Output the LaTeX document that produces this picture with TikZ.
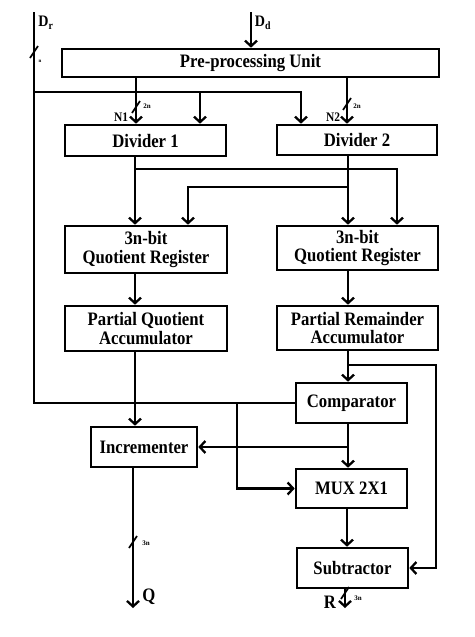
\documentclass[tikz,border=0pt]{standalone}
\usepackage{fontspec}
\setmainfont{Liberation Serif}
\newfontfamily\diagfont[FakeStretch=0.88]{Liberation Serif}
\usetikzlibrary{arrows.meta}

\begin{document}
\begin{tikzpicture}[x=1pt,y=-1pt,
  blk/.style={draw,line width=2.6pt,inner sep=1pt,align=center,
    font=\diagfont\fontsize{19}{18.5}\selectfont\bfseries},
  wire/.style={line width=2.3pt},
  >={Straight Barb[length=5.5pt,width=12pt]},
  lbl/.style={font=\diagfont\fontsize{13}{13}\selectfont\bfseries,inner sep=0pt},
  big/.style={font=\diagfont\fontsize{19}{19}\selectfont\bfseries,inner sep=0pt},
  small/.style={font=\fontsize{7}{7}\selectfont\bfseries,inner sep=0pt}]
  \useasboundingbox (0,0) rectangle (474,637);
  % blocks
  \node[blk,minimum width=377pt,minimum height=28pt] (pre) at (250.5,63) {Pre-processing Unit};
  \node[blk,minimum width=161pt,minimum height=31pt] (div1) at (145.5,140.5) {Divider 1};
  \node[blk,minimum width=160pt,minimum height=30pt] (div2) at (357,140) {Divider 2};
  \node[blk,minimum width=162pt,minimum height=47pt] (qr1) at (146,249.5) {3n-bit\\Quotient Register};
  \node[blk,minimum width=161pt,minimum height=44pt] (qr2) at (357.5,248) {3n-bit\\Quotient Register};
  \node[blk,minimum width=162pt,minimum height=45pt] (pqa) at (146,328.5) {Partial Quotient\\Accumulator};
  \node[blk,minimum width=161pt,minimum height=44pt] (pra) at (357.5,328) {Partial Remainder\\Accumulator};
  \node[blk,minimum width=111pt,minimum height=40pt] (cmp) at (351.5,403) {Comparator};
  \node[blk,minimum width=106pt,minimum height=40pt] (inc) at (144,447) {Incrementer};
  \node[blk,minimum width=111pt,minimum height=39pt] (mux) at (351.5,488.5) {MUX 2X1};
  \node[blk,minimum width=111pt,minimum height=40pt] (sub) at (352.5,568) {Subtractor};
  % wire columns and taps
  \coordinate (drtop) at (34,12);
  \coordinate (ddtop) at (251,12);
  \coordinate (tapA) at (200,92);
  \coordinate (tapB) at (301,92);
  \coordinate (n1) at (136,0);
  \coordinate (n2) at (347,0);
  \coordinate (colL) at (135,0);
  \coordinate (colR) at (348,0);
  \coordinate (colM) at (347,0);
  \coordinate (xA) at (397,169);
  \coordinate (xB) at (188,187);
  \coordinate (loop) at (436,365);
  \coordinate (muxtap) at (237,0);
  \coordinate (qout) at (133,608);
  \coordinate (rout) at (345,608);
  % inputs
  \draw[wire] (drtop) -- (drtop |- cmp.west) -- (cmp.west);
  \draw[wire,->] (ddtop) -- (ddtop |- pre.north);
  \draw[wire,->] (drtop |- tapB) -- (tapB) -- (tapB |- div2.north);
  \draw[wire,->] (tapA) -- (tapA |- div1.north);
  \draw[wire,->] (pre.south -| n1) -- (div1.north -| n1);
  \draw[wire,->] (pre.south -| n2) -- (div2.north -| n2);
  % dividers to registers
  \draw[wire,->] (div1.south -| colL) -- (qr1.north -| colL);
  \draw[wire,->] (colL |- xA) -- (xA) -- (xA |- qr2.north);
  \draw[wire,->] (div2.south -| colR) -- (qr2.north -| colR);
  \draw[wire,->] (colR |- xB) -- (xB) -- (xB |- qr1.north);
  \draw[wire,->] (qr1.south -| colL) -- (pqa.north -| colL);
  \draw[wire,->] (qr2.south -| colR) -- (pra.north -| colR);
  % accumulators onwards
  \draw[wire,->] (pqa.south -| colL) -- (inc.north -| colL);
  \draw[wire,->] (pra.south -| colR) -- (cmp.north -| colR);
  \draw[wire,->] (colR |- loop) -- (loop) -- (loop |- sub.east) -- (sub.east);
  \draw[wire,->] (muxtap |- cmp.west) -- (muxtap |- mux.west) -- (mux.west);
  \draw[wire,->] (cmp.south -| colR) -- (mux.north -| colR);
  \draw[wire,->] (colR |- inc.east) -- (inc.east);
  \draw[wire,->] (mux.south -| colM) -- (sub.north -| colM);
  \draw[wire,->] (inc.south -| qout) -- (qout);
  \draw[wire,->] (sub.south -| rout) -- (rout);
  % bus width slashes
  \foreach \p in {(34,52),(136,107),(347,104),(133,542),(345,593)}
    \draw[line width=1.7pt] \p ++(-4,6) -- ++(8,-12);
  % labels
  \node[lbl,font=\diagfont\fontsize{16}{16}\selectfont\bfseries] (drlbl) at (46,23) {D\textsubscript{r}};
  \node[lbl,font=\diagfont\fontsize{16}{16}\selectfont\bfseries] (ddlbl) at (263,23) {D\textsubscript{d}};
  \node[small,font=\fontsize{5}{5}\selectfont\bfseries] (nlbl) at (40,61) {n};
  \node[lbl] (n1lbl) at (121,117) {N1};
  \node[small] (n1w) at (147,106) {2n};
  \node[lbl] (n2lbl) at (333,117) {N2};
  \node[small] (n2w) at (357,106) {2n};
  \node[small] (qw) at (146,543) {3n};
  \node[big] (qlbl) at (149,597) {Q};
  \node[small] (rw) at (358,598) {3n};
  \node[big] (rlbl) at (330,602) {R};
\end{tikzpicture}
\end{document}
